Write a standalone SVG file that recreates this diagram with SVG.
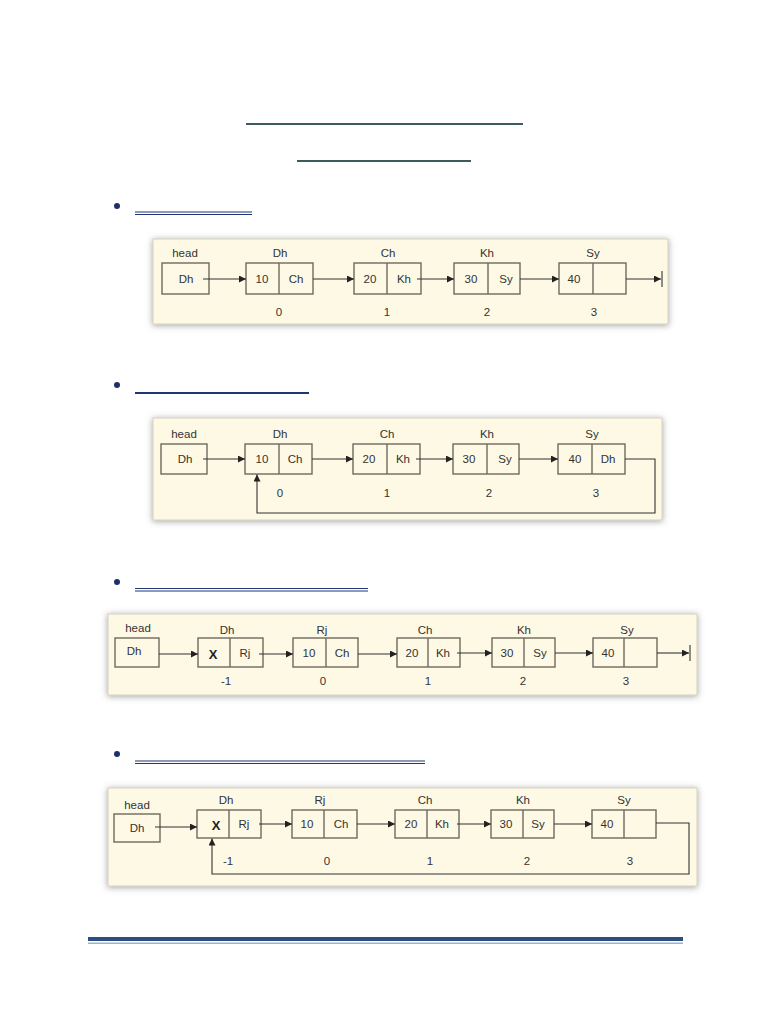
<svg xmlns="http://www.w3.org/2000/svg" width="768" height="1024" viewBox="0 0 768 1024">
<style>
.pan{fill:#fdf9e4;stroke:#d6d2bf;stroke-width:1}
.box{fill:#fdf9e4;stroke:#6e6a5e;stroke-width:1.4}
.div{stroke:#6e6a5e;stroke-width:1.4}
.t{font-family:"Liberation Sans",Arial,sans-serif;font-size:11.5px;fill:#333;text-anchor:middle}
.x{font-family:"Liberation Sans",Arial,sans-serif;font-size:13px;font-weight:bold;fill:#222;text-anchor:middle}
.ln{stroke:#333;stroke-width:1.1;fill:none}
.ar{stroke:#333;stroke-width:1.1;fill:none;marker-end:url(#ah)}
.bul{fill:#1f2f6b}
.u1{stroke:#3b5b5f;stroke-width:2}
.u2{stroke:#1f3577;stroke-width:1.2}
.u3{stroke:#1f3577;stroke-width:2.2}
</style>
<defs>
<marker id="ah" viewBox="0 0 10 10" refX="10" refY="5" markerWidth="8" markerHeight="7" markerUnits="userSpaceOnUse" orient="auto">
<path d="M0,0 L10,5 L0,10 z" fill="#222"/>
</marker>
<filter id="sh" x="-5%" y="-20%" width="110%" height="140%">
<feDropShadow dx="0" dy="1" stdDeviation="3" flood-color="#555" flood-opacity="0.55"/>
</filter>
</defs>
<rect width="768" height="1024" fill="#fff"/>

<g id="titles">
<line class="u1" x1="246" y1="124" x2="523" y2="124"/>
<line class="u1" x1="297" y1="161" x2="471" y2="161"/>
</g>

<g id="bullets">
<circle class="bul" cx="117" cy="206" r="3"/>
<line class="u2" x1="135" y1="212" x2="252" y2="212"/>
<line class="u2" x1="135" y1="214.5" x2="252" y2="214.5"/>
<circle class="bul" cx="117" cy="385" r="3"/>
<line class="u3" x1="135" y1="393" x2="309" y2="393"/>
<circle class="bul" cx="117" cy="582" r="3"/>
<line class="u2" x1="135" y1="588.5" x2="368" y2="588.5"/>
<line class="u2" x1="135" y1="591" x2="368" y2="591"/>
<circle class="bul" cx="117" cy="754" r="3"/>
<line class="u2" x1="135" y1="761" x2="425" y2="761"/>
<line class="u2" x1="135" y1="763.5" x2="425" y2="763.5"/>
</g>

<g id="panels">
<rect class="pan" filter="url(#sh)" x="153" y="239" width="515" height="85"/>
<rect class="pan" filter="url(#sh)" x="153" y="418" width="509" height="102"/>
<rect class="pan" filter="url(#sh)" x="108" y="614" width="589" height="81"/>
<rect class="pan" filter="url(#sh)" x="108" y="788" width="589" height="98"/>
</g>

<!-- Panel 1 -->
<g id="p1-head">
<text class="t" x="185" y="257">head</text>
<rect class="box" x="162" y="263" width="47" height="31"/>
<text class="t" x="186" y="283">Dh</text>
</g>
<g id="p1-n0">
<text class="t" x="280" y="257">Dh</text>
<rect class="box" x="246" y="263" width="67" height="31"/><line class="div" x1="279" y1="263" x2="279" y2="294"/>
<text class="t" x="262" y="283">10</text><text class="t" x="296" y="283">Ch</text>
<text class="t" x="279" y="316">0</text>
</g>
<g id="p1-n1">
<text class="t" x="388" y="257">Ch</text>
<rect class="box" x="354" y="263" width="67" height="31"/><line class="div" x1="387" y1="263" x2="387" y2="294"/>
<text class="t" x="370" y="283">20</text><text class="t" x="404" y="283">Kh</text>
<text class="t" x="387" y="316">1</text>
</g>
<g id="p1-n2">
<text class="t" x="487" y="257">Kh</text>
<rect class="box" x="454" y="263" width="66" height="31"/><line class="div" x1="488" y1="263" x2="488" y2="294"/>
<text class="t" x="471" y="283">30</text><text class="t" x="506" y="283">Sy</text>
<text class="t" x="487" y="316">2</text>
</g>
<g id="p1-n3">
<text class="t" x="593" y="257">Sy</text>
<rect class="box" x="559" y="263" width="67" height="31"/><line class="div" x1="593" y1="263" x2="593" y2="294"/>
<text class="t" x="574" y="283">40</text>
<text class="t" x="594" y="316">3</text>
</g>

<!-- Panel 2 -->
<g id="p2-head">
<text class="t" x="184" y="438">head</text>
<rect class="box" x="161" y="444" width="46" height="30"/>
<text class="t" x="185" y="463">Dh</text>
</g>
<g id="p2-n0">
<text class="t" x="280" y="438">Dh</text>
<rect class="box" x="245" y="444" width="67" height="30"/><line class="div" x1="279" y1="444" x2="279" y2="474"/>
<text class="t" x="262" y="463">10</text><text class="t" x="295" y="463">Ch</text>
<text class="t" x="280" y="497">0</text>
</g>
<g id="p2-n1">
<text class="t" x="387" y="438">Ch</text>
<rect class="box" x="353" y="444" width="67" height="30"/><line class="div" x1="387" y1="444" x2="387" y2="474"/>
<text class="t" x="369" y="463">20</text><text class="t" x="403" y="463">Kh</text>
<text class="t" x="387" y="497">1</text>
</g>
<g id="p2-n2">
<text class="t" x="487" y="438">Kh</text>
<rect class="box" x="453" y="444" width="66" height="30"/><line class="div" x1="487" y1="444" x2="487" y2="474"/>
<text class="t" x="469" y="463">30</text><text class="t" x="505" y="463">Sy</text>
<text class="t" x="489" y="497">2</text>
</g>
<g id="p2-n3">
<text class="t" x="592" y="438">Sy</text>
<rect class="box" x="558" y="444" width="67" height="30"/><line class="div" x1="592" y1="444" x2="592" y2="474"/>
<text class="t" x="575" y="463">40</text><text class="t" x="608" y="463">Dh</text>
<text class="t" x="596" y="497">3</text>
</g>

<!-- Panel 3 -->
<g id="p3-head">
<text class="t" x="138" y="632">head</text>
<rect class="box" x="115" y="638" width="44" height="29"/>
<text class="t" x="134" y="655">Dh</text>
</g>
<g id="p3-n0">
<text class="t" x="227" y="634">Dh</text>
<rect class="box" x="198" y="638" width="65" height="29"/><line class="div" x1="230" y1="638" x2="230" y2="667"/>
<text class="x" x="213" y="659">X</text><text class="t" x="245" y="657">Rj</text>
<text class="t" x="226" y="685">-1</text>
</g>
<g id="p3-n1">
<text class="t" x="322" y="634">Rj</text>
<rect class="box" x="293" y="638" width="65" height="29"/><line class="div" x1="326" y1="638" x2="326" y2="667"/>
<text class="t" x="309" y="657">10</text><text class="t" x="342" y="657">Ch</text>
<text class="t" x="323" y="685">0</text>
</g>
<g id="p3-n2">
<text class="t" x="425" y="634">Ch</text>
<rect class="box" x="397" y="638" width="63" height="29"/><line class="div" x1="428" y1="638" x2="428" y2="667"/>
<text class="t" x="412" y="657">20</text><text class="t" x="443" y="657">Kh</text>
<text class="t" x="428" y="685">1</text>
</g>
<g id="p3-n3">
<text class="t" x="524" y="634">Kh</text>
<rect class="box" x="492" y="638" width="63" height="29"/><line class="div" x1="524" y1="638" x2="524" y2="667"/>
<text class="t" x="507" y="657">30</text><text class="t" x="540" y="657">Sy</text>
<text class="t" x="523" y="685">2</text>
</g>
<g id="p3-n4">
<text class="t" x="627" y="634">Sy</text>
<rect class="box" x="593" y="638" width="64" height="29"/><line class="div" x1="624" y1="638" x2="624" y2="667"/>
<text class="t" x="608" y="657">40</text>
<text class="t" x="626" y="685">3</text>
</g>

<!-- Panel 4 -->
<g id="p4-head">
<text class="t" x="137" y="809">head</text>
<rect class="box" x="114" y="814" width="46" height="28"/>
<text class="t" x="137" y="832">Dh</text>
</g>
<g id="p4-n0">
<text class="t" x="226" y="804">Dh</text>
<rect class="box" x="197" y="810" width="64" height="28"/><line class="div" x1="229" y1="810" x2="229" y2="838"/>
<text class="x" x="216" y="830">X</text><text class="t" x="244" y="828">Rj</text>
<text class="t" x="228" y="865">-1</text>
</g>
<g id="p4-n1">
<text class="t" x="320" y="804">Rj</text>
<rect class="box" x="292" y="810" width="65" height="28"/><line class="div" x1="324" y1="810" x2="324" y2="838"/>
<text class="t" x="307" y="828">10</text><text class="t" x="341" y="828">Ch</text>
<text class="t" x="327" y="865">0</text>
</g>
<g id="p4-n2">
<text class="t" x="425" y="804">Ch</text>
<rect class="box" x="395" y="810" width="64" height="28"/><line class="div" x1="427" y1="810" x2="427" y2="838"/>
<text class="t" x="411" y="828">20</text><text class="t" x="442" y="828">Kh</text>
<text class="t" x="430" y="865">1</text>
</g>
<g id="p4-n3">
<text class="t" x="523" y="804">Kh</text>
<rect class="box" x="491" y="810" width="63" height="28"/><line class="div" x1="523" y1="810" x2="523" y2="838"/>
<text class="t" x="506" y="828">30</text><text class="t" x="538" y="828">Sy</text>
<text class="t" x="527" y="865">2</text>
</g>
<g id="p4-n4">
<text class="t" x="624" y="804">Sy</text>
<rect class="box" x="592" y="810" width="64" height="28"/><line class="div" x1="624" y1="810" x2="624" y2="838"/>
<text class="t" x="607" y="828">40</text>
<text class="t" x="630" y="865">3</text>
</g>

<g id="connectors">
<!-- P1 -->
<line class="ar" x1="203" y1="279" x2="246" y2="279"/>
<line class="ar" x1="313" y1="279" x2="354" y2="279"/>
<line class="ar" x1="417" y1="279" x2="454" y2="279"/>
<line class="ar" x1="520" y1="279" x2="559" y2="279"/>
<line class="ar" x1="626" y1="279" x2="661" y2="279"/>
<line class="ln" x1="662" y1="271" x2="662" y2="287" stroke-width="1.4"/>
<!-- P2 -->
<line class="ar" x1="203" y1="459" x2="245" y2="459"/>
<line class="ar" x1="312" y1="459" x2="353" y2="459"/>
<line class="ar" x1="416" y1="459" x2="453" y2="459"/>
<line class="ar" x1="519" y1="459" x2="558" y2="459"/>
<path class="ar" d="M625,459 H655 V513 H257 V474.5"/>
<!-- P3 -->
<line class="ar" x1="159" y1="654" x2="198" y2="654"/>
<line class="ar" x1="259" y1="654" x2="293" y2="654"/>
<line class="ar" x1="358" y1="654" x2="397" y2="654"/>
<line class="ar" x1="457" y1="653" x2="492" y2="653"/>
<line class="ar" x1="555" y1="653" x2="593" y2="653"/>
<line class="ar" x1="657" y1="653" x2="689" y2="653"/>
<line class="ln" x1="690" y1="645" x2="690" y2="661" stroke-width="1.4"/>
<!-- P4 -->
<line class="ar" x1="155" y1="827" x2="197" y2="827"/>
<line class="ar" x1="259" y1="824" x2="292" y2="824"/>
<line class="ar" x1="357" y1="824" x2="395" y2="824"/>
<line class="ar" x1="457" y1="824" x2="491" y2="824"/>
<line class="ar" x1="554" y1="824" x2="592" y2="824"/>
<path class="ar" d="M656,823 H689 V874 H212 V838.5"/>
</g>

<g id="footer">
<rect x="88" y="937" width="595" height="4" fill="#2a4f7f"/>
<rect x="88" y="942.5" width="595" height="1.5" fill="#9fb4cb"/>
</g>
</svg>
